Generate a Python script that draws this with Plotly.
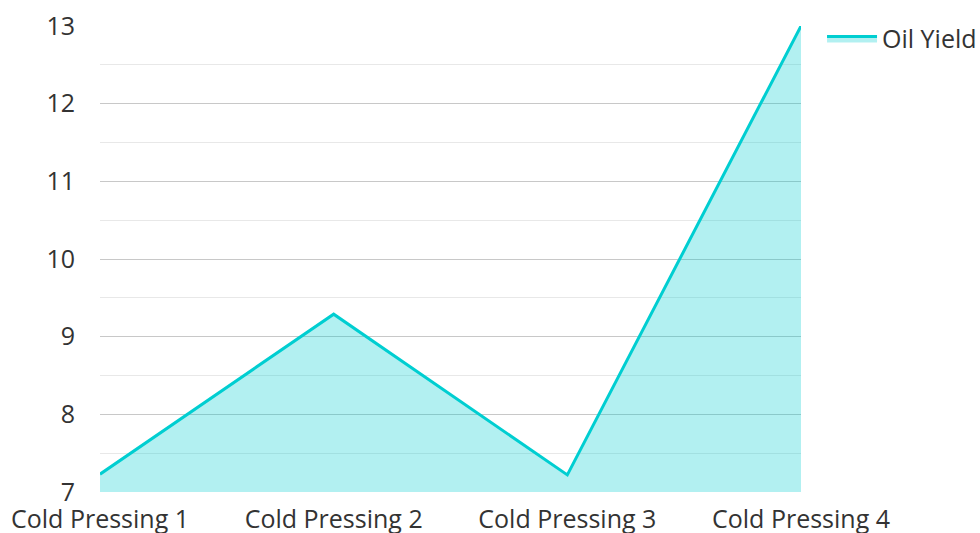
import plotly.graph_objects as go

categories = ["Cold Pressing 1", "Cold Pressing 2", "Cold Pressing 3", "Cold Pressing 4"]
oil_yield = [7.23, 9.29, 7.22, 13.0]
series_name = "Oil Yield"
y_ticks = [7, 8, 9, 10, 11, 12, 13]

fig = go.Figure()
fig.add_trace(go.Scatter(
    x=categories, y=oil_yield, name=series_name,
    mode="lines", fill="tozeroy",
    line=dict(color="#00CED1", width=3),
    fillcolor="rgba(0,206,209,0.3)",
))

fig.update_layout(
    width=980, height=533,
    margin=dict(l=100, r=179, t=26, b=41, autoexpand=False),
    paper_bgcolor="white", plot_bgcolor="white",
    font=dict(family="Open Sans", size=25, color="#333333"),
    showlegend=True,
    legend=dict(x=1.03, y=1.022, xanchor="left", yanchor="top", itemwidth=50,
                font=dict(size=25, color="#333333"), bgcolor="rgba(0,0,0,0)"),
    xaxis=dict(type="category", range=[0, 3], showgrid=False, zeroline=False,
               showline=False, ticks="", tickfont=dict(size=25), ticklabelstandoff=10,
               automargin=False),
    yaxis=dict(range=[7, 13], tickvals=y_ticks, showgrid=True, gridcolor="#c8c8c8",
               gridwidth=1, zeroline=False, showline=False, ticks="",
               ticklabelstandoff=24, tickfont=dict(size=25), automargin=False,
               minor=dict(dtick=0.5, showgrid=True, gridcolor="#e8e8e8", gridwidth=1)),
)

fig.write_html("out.html", config={"displayModeBar": False},
               post_script="document.body.style.margin='0px';")
